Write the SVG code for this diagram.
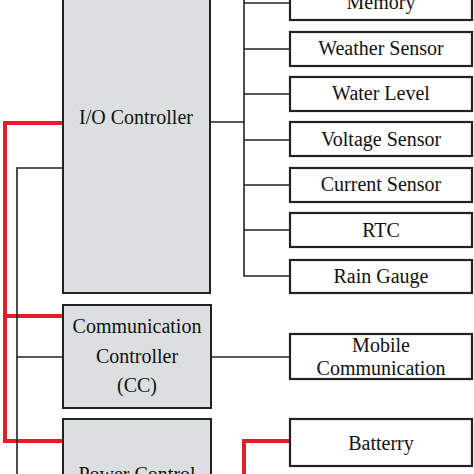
<svg xmlns="http://www.w3.org/2000/svg" width="474" height="474" viewBox="0 0 474 474">
<style>
.ctrl{fill:#dcdfe0;stroke:#222;stroke-width:2}
.dev{fill:#fff;stroke:#222;stroke-width:2.2}
.t{font-family:"Liberation Serif","Times New Roman",serif;font-size:20px;fill:#111;text-anchor:middle}
.w{fill:none;stroke:#222;stroke-width:1.6}
.r{fill:none;stroke:#e31e2c;stroke-width:4}
</style>
<rect width="474" height="474" fill="#fff"/>
<g id="connectors">
<path class="r" d="M63,123 H5 V441 H63 M5,316 H63"/>
<path class="w" d="M63,168 H17 V480 M17,357 H63"/>
<path class="w" d="M210,122 H244 M244,-2 V276 H290 M244,3 H290 M244,49 H290 M244,94 H290 M244,140 H290 M244,185 H290 M244,230 H290"/>
<path class="w" d="M211,357 H290"/>
<path class="r" d="M290,441 H244 V480"/>
</g>
<g id="io"><rect class="ctrl" x="63" y="-6" width="147" height="299"/><text class="t" x="136" y="124">I/O Controller</text></g>
<g id="cc"><rect class="ctrl" x="63" y="305" width="148" height="103"/><text class="t" x="137" y="333">Communication</text><text class="t" x="137" y="363">Controller</text><text class="t" x="137" y="392">(CC)</text></g>
<g id="pc"><rect class="ctrl" x="63" y="419" width="148" height="70"/><text class="t" x="137" y="481">Power Control</text></g>
<g id="memory"><rect class="dev" x="290" y="-14" width="182" height="34"/><text class="t" x="381" y="9">Memory</text></g>
<g id="weather"><rect class="dev" x="290" y="32" width="182" height="34"/><text class="t" x="381" y="55">Weather Sensor</text></g>
<g id="water"><rect class="dev" x="290" y="77" width="182" height="34"/><text class="t" x="381" y="100">Water Level</text></g>
<g id="voltage"><rect class="dev" x="290" y="122" width="182" height="34"/><text class="t" x="381" y="146">Voltage Sensor</text></g>
<g id="current"><rect class="dev" x="290" y="168" width="182" height="34"/><text class="t" x="381" y="191">Current Sensor</text></g>
<g id="rtc"><rect class="dev" x="290" y="213" width="182" height="34"/><text class="t" x="381" y="237">RTC</text></g>
<g id="rain"><rect class="dev" x="290" y="260" width="182" height="33"/><text class="t" x="381" y="283">Rain Gauge</text></g>
<g id="mobile"><rect class="dev" x="290" y="334" width="182" height="45"/><text class="t" x="381" y="352">Mobile</text><text class="t" x="381" y="375">Communication</text></g>
<g id="battery"><rect class="dev" x="290" y="419" width="182" height="47"/><text class="t" x="381" y="450">Batterry</text></g>
</svg>
